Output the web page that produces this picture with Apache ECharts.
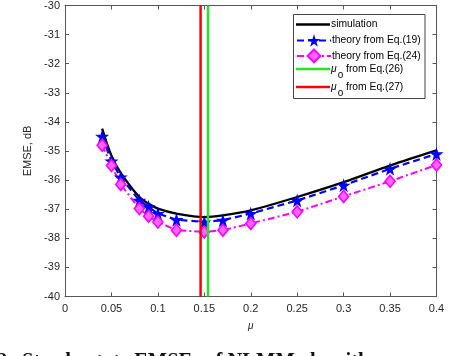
<!DOCTYPE html>
<html>
<head>
<meta charset="utf-8">
<script src="https://cdn.jsdelivr.net/npm/echarts@6/dist/echarts.min.js"></script>
<style>
html,body{margin:0;padding:0;background:#fff;}
#c{width:474px;height:356px;}
</style>
</head>
<body>
<div id="c"></div>
<script>
const muValues = [0.04, 0.05, 0.06, 0.08, 0.09, 0.1, 0.12, 0.15, 0.17, 0.2, 0.25, 0.3, 0.35, 0.4];
const simulation = [-34.23, -35.16, -35.75, -36.58, -36.81, -36.98, -37.15, -37.27, -37.21, -37.04, -36.58, -36.07, -35.50, -34.98];
const theory19 = [-34.50, -35.35, -35.90, -36.70, -36.92, -37.15, -37.36, -37.44, -37.38, -37.15, -36.70, -36.18, -35.61, -35.10];
const theory24 = [-34.80, -35.50, -36.15, -36.98, -37.24, -37.44, -37.72, -37.78, -37.72, -37.49, -37.09, -36.56, -36.04, -35.48];
const muOpt26 = 0.154;
const muOpt27 = 0.146;
const xTicks = {min: 0, max: 0.4, interval: 0.05};
const yTicks = {min: -40, max: -30, interval: 1};
const names = ['simulation', 'theory from Eq.(19)', 'theory from Eq.(24)', 'μo from Eq.(26)', 'μo from Eq.(27)'];
const captionNum = '2.';
const captionText = 'Steady-state EMSEs of NLMM algorithm versus μ';

const pair = (xs, ys) => xs.map((x, i) => [x, ys[i]]);
const starPath = 'path://M50,0 L61,35 L98,35 L68,57 L79,91 L50,70 L21,91 L32,57 L2,35 L39,35 Z';
const barIcon = 'path://M0,0 H100 V7 H0 Z';
const axisColor = '#555';
const font = '"Liberation Sans", Arial, sans-serif';
const capFont = 'bold 20.5px "Liberation Serif", "Times New Roman", serif';

const chart = echarts.init(document.getElementById('c'), null, {renderer: 'canvas'});

const legendRows = [27.5, 42, 56.5, 72, 90];
const lineOnly = [true, false, false, true, true];
const legends = names.map((n, i) => ({
  data: [lineOnly[i] ? {name: n, icon: barIcon} : {name: n}],
  left: 296,
  top: legendRows[i] - 8,
  orient: 'vertical',
  itemWidth: 34,
  itemHeight: 16,
  itemGap: 0,
  padding: 0,
  selectedMode: false,
  textStyle: {
    fontFamily: font, fontSize: 10.3, color: '#000', padding: [0, 0, 0, -4],
    rich: {
      m: {fontFamily: font, fontSize: 10.3, fontStyle: 'italic', color: '#000'},
      s: {fontFamily: font, fontSize: 10, color: '#000', verticalAlign: 'bottom', padding: [12, 0, 0, 1]},
      t: {fontFamily: font, fontSize: 10.3, color: '#000'}
    }
  },
  formatter: function (name) {
    if (name.indexOf('μo') === 0) {
      return '{m|μ}{s|o} {t|' + name.slice(3) + '}';
    }
    return name;
  }
}));

const option = {
  backgroundColor: '#fff',
  animation: false,
  grid: {left: 65, top: 4, right: 37.5, bottom: 59.5, show: false},
  xAxis: [{
    type: 'value', min: xTicks.min, max: xTicks.max, interval: xTicks.interval,
    position: 'bottom',
    name: 'μ', nameLocation: 'middle', nameGap: 25,
    nameTextStyle: {fontFamily: font, fontSize: 10, fontStyle: 'italic', color: '#262626'},
    axisLine: {show: true, onZero: false, lineStyle: {color: axisColor, width: 1}},
    axisTick: {show: true, inside: true, length: 4, lineStyle: {color: axisColor}},
    axisLabel: {fontFamily: font, fontSize: 11, color: '#262626', margin: 7,
      formatter: v => String(+v.toFixed(2))},
    splitLine: {show: false}
  }, {
    type: 'value', min: xTicks.min, max: xTicks.max, interval: xTicks.interval,
    position: 'top',
    axisLine: {show: true, onZero: false, lineStyle: {color: axisColor, width: 1}},
    axisTick: {show: true, inside: true, length: 4, lineStyle: {color: axisColor}},
    axisLabel: {show: false}, splitLine: {show: false}
  }],
  yAxis: [{
    type: 'value', min: yTicks.min, max: yTicks.max, interval: yTicks.interval,
    position: 'left',
    name: 'EMSE, dB', nameLocation: 'middle', nameGap: 24,
    nameTextStyle: {fontFamily: font, fontSize: 11, color: '#262626'},
    axisLine: {show: true, onZero: false, lineStyle: {color: axisColor, width: 1}},
    axisTick: {show: true, inside: true, length: 4, lineStyle: {color: axisColor}},
    axisLabel: {fontFamily: font, fontSize: 11, color: '#262626', margin: 5},
    splitLine: {show: false}
  }, {
    type: 'value', min: yTicks.min, max: yTicks.max, interval: yTicks.interval,
    position: 'right',
    axisLine: {show: true, onZero: false, lineStyle: {color: axisColor, width: 1}},
    axisTick: {show: true, inside: true, length: 4, lineStyle: {color: axisColor}},
    axisLabel: {show: false}, splitLine: {show: false}
  }],
  legend: legends,
  graphic: [{
    type: 'rect', z: 3,
    shape: {x: 293.5, y: 14.5, width: 131.5, height: 84},
    style: {fill: '#fff', stroke: '#444', lineWidth: 1}
  }, {
    type: 'text', x: -3, y: 351, z: 10,
    style: {text: captionNum, font: capFont, fill: '#111', verticalAlign: 'top', align: 'left'}
  }, {
    type: 'text', x: 22, y: 351, z: 10,
    style: {text: captionText, font: capFont, fill: '#111', verticalAlign: 'top', align: 'left'}
  }],
  series: [{
    name: names[0], type: 'line', smooth: 0.35, symbol: 'none', z: 2,
    data: pair(muValues, simulation),
    lineStyle: {color: '#000', width: 2.3},
    itemStyle: {color: '#000'}
  }, {
    name: names[1], type: 'line', symbol: starPath, symbolSize: 14, z: 3,
    data: pair(muValues, theory19),
    lineStyle: {color: '#0000ff', width: 2.2, type: [7, 4]},
    itemStyle: {color: '#0000ff', borderWidth: 0}
  }, {
    name: names[2], type: 'line', symbol: 'diamond', symbolSize: [10, 12], z: 3,
    data: pair(muValues, theory24),
    lineStyle: {color: '#ff00ff', width: 2, type: [7, 3, 2, 3]},
    itemStyle: {color: '#ff66ff', borderColor: '#ff00ff', borderWidth: 1.6}
  }, {
    name: names[3], type: 'line', symbol: 'none', z: 4,
    data: [[muOpt26, yTicks.min], [muOpt26, yTicks.max]],
    lineStyle: {color: '#22e622', width: 2.5},
    itemStyle: {color: '#22e622'}
  }, {
    name: names[4], type: 'line', symbol: 'none', z: 4,
    data: [[muOpt27, yTicks.min], [muOpt27, yTicks.max]],
    lineStyle: {color: '#ff0000', width: 2.5},
    itemStyle: {color: '#ff0000'}
  }]
};
chart.setOption(option);
</script>
</body>
</html>
